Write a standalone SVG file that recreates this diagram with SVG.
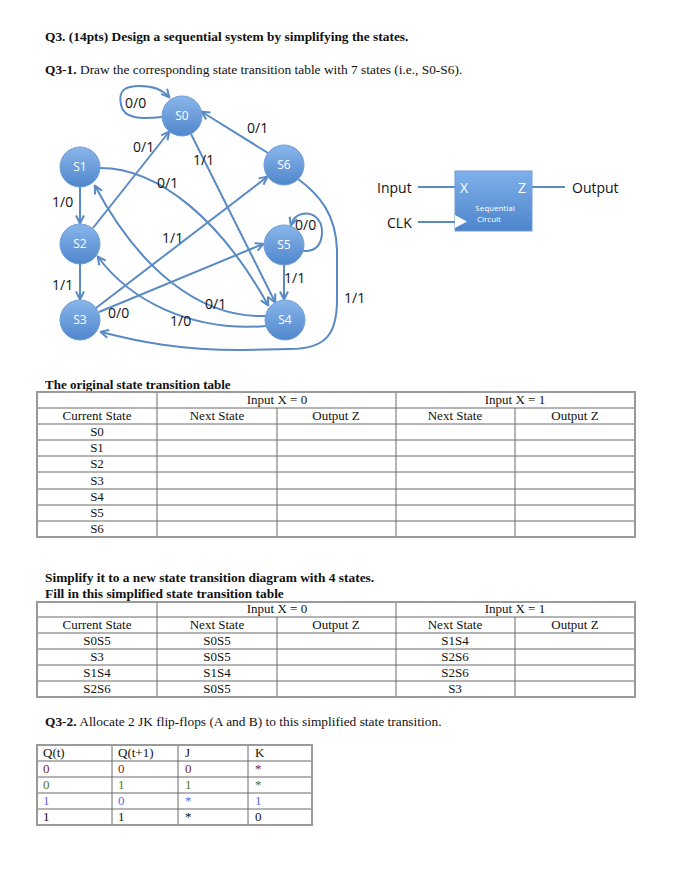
<svg xmlns="http://www.w3.org/2000/svg" width="683" height="874" viewBox="0 0 683 874">
<defs>
<linearGradient id="nodeg" x1="0" y1="0" x2="0" y2="1">
<stop offset="0" stop-color="#8ab6ea"/>
<stop offset="1" stop-color="#4f86cc"/>
</linearGradient>
<linearGradient id="boxg" x1="0" y1="0" x2="0" y2="1">
<stop offset="0" stop-color="#7fb0ea"/>
<stop offset="1" stop-color="#4d84cb"/>
</linearGradient>
<marker id="ah" viewBox="0 0 10 10" refX="8.5" refY="5" markerWidth="10" markerHeight="10" markerUnits="userSpaceOnUse" orient="auto">
<path d="M1,1 L9,5 L1,9" fill="none" stroke="#5a8ac4" stroke-width="2" stroke-linejoin="miter"/>
</marker>
<style>
.nd{fill:url(#nodeg);stroke:#6e9ed8;stroke-width:1}
.nt{font-family:"Open Sans","Liberation Sans",sans-serif;font-size:12px;fill:#fff;text-anchor:middle}
.e{fill:none;stroke:#5a8ac4;stroke-width:2;marker-end:url(#ah)}
.w{fill:none;stroke:#5a8ac4;stroke-width:2}
.el{font-family:"Open Sans","Liberation Sans",sans-serif;font-size:14px;fill:#111}
.sl{font-family:"Open Sans","Liberation Sans",sans-serif;font-size:14px;fill:#111}
.bt{font-family:"Open Sans","Liberation Sans",sans-serif;fill:#fff}
.t{font-family:"Liberation Serif","Times New Roman",serif;font-size:13px;fill:#111}
.h{font-size:13.4px}
.b{font-weight:bold}
.c{text-anchor:middle}
.g{fill:none;stroke:#6a6a6a;stroke-width:1}
.o{fill:none;stroke:#9a9a9a;stroke-width:2}
</style>
</defs>
<rect width="683" height="874" fill="#fff"/>

<text class="t b h" x="45" y="41">Q3. (14pts) Design a sequential system by simplifying the states.</text>
<text class="t h" x="45" y="74"><tspan class="b">Q3-1.</tspan> Draw the corresponding state transition table with 7 states (i.e., S0-S6).</text>

<g id="connectors">
<path class="e" d="M162,117 C140,119 124,119 121,105 C118,90 125,86 140,86 C155,86 163,90 169,97"/>
<path class="e" d="M191,134 L275,302"/>
<path class="e" d="M80,187 L80,223"/>
<path class="e" d="M100,168 C160,168 222,222 268,305"/>
<path class="e" d="M93,228 L169,132"/>
<path class="e" d="M80,264 L80,299"/>
<path class="e" d="M99,312 L263,244"/>
<path class="e" d="M96,308 L267,177"/>
<path class="e" d="M265,316 C200,318 140,270 95,186"/>
<path class="e" d="M266,326 C190,332 130,300 98,257"/>
<path class="e" d="M303,251 C315,252 322,245 322,232 C322,218 312,212 302,214 C296,215 293,219 291,225"/>
<path class="e" d="M284,265 L284,299"/>
<path class="e" d="M268,153 L202,112"/>
<path class="e" d="M298,179 C320,195 336,215 337,250 L337,300 C337,335 325,349 290,349 L240,350 C180,350 140,342 101,332"/>
</g>
<g id="edge-labels">
<text class="el" x="125" y="108">0/0</text>
<text class="el" x="193" y="165">1/1</text>
<text class="el" x="52" y="207">1/0</text>
<text class="el" x="157" y="188">0/1</text>
<text class="el" x="133" y="152">0/1</text>
<text class="el" x="52" y="290">1/1</text>
<text class="el" x="108" y="318">0/0</text>
<text class="el" x="162" y="243">1/1</text>
<text class="el" x="205" y="309">0/1</text>
<text class="el" x="170" y="326">1/0</text>
<text class="el" x="295" y="230">0/0</text>
<text class="el" x="284" y="283">1/1</text>
<text class="el" x="247" y="133">0/1</text>
<text class="el" x="344" y="303">1/1</text>
</g>

<g id="S0"><circle class="nd" cx="182" cy="116" r="20"/><text class="nt" x="182" y="120">S0</text></g>
<g id="S1"><circle class="nd" cx="80" cy="167" r="20"/><text class="nt" x="80" y="171">S1</text></g>
<g id="S2"><circle class="nd" cx="80" cy="244" r="20"/><text class="nt" x="80" y="248">S2</text></g>
<g id="S3"><circle class="nd" cx="80" cy="320" r="20"/><text class="nt" x="80" y="324">S3</text></g>
<g id="S4"><circle class="nd" cx="285" cy="320" r="20"/><text class="nt" x="285" y="324">S4</text></g>
<g id="S5"><circle class="nd" cx="284" cy="245" r="20"/><text class="nt" x="284" y="249">S5</text></g>
<g id="S6"><circle class="nd" cx="284" cy="165" r="20"/><text class="nt" x="284" y="169">S6</text></g>

<g id="seq-circuit">
<path class="w" d="M418,187 L455,187 M532,187 L565,187 M418,222 L455,222"/>
<rect x="455" y="171" width="77" height="60" fill="url(#boxg)" stroke="#6e9ed8" stroke-width="1"/>
<polygon points="455,215 467,221.5 455,228" fill="#fff"/>
<text class="bt" x="460" y="193" font-size="14">X</text>
<text class="bt" x="518" y="193" font-size="14">Z</text>
<text class="bt" x="495" y="211" font-size="8" text-anchor="middle">Sequential</text>
<text class="bt" x="489" y="222" font-size="8" text-anchor="middle">Circuit</text>
<text class="sl" x="377" y="193">Input</text>
<text class="sl" x="572" y="193">Output</text>
<text class="sl" x="387" y="228">CLK</text>
</g>

<g id="table1">
<text class="t b" x="45" y="389">The original state transition table</text>
<path class="g" d="M37,408 H635 M37,424 H635 M37,440 H635 M37,456 H635 M37,472 H635 M37,489 H635 M37,505 H635 M37,521 H635 M157,392 V537 M396,392 V537 M277,408 V537 M515,408 V537"/>
<rect class="o" x="37" y="392" width="598" height="145"/>
<text class="t c" x="277" y="404">Input X = 0</text>
<text class="t c" x="515" y="404">Input X = 1</text>
<text class="t c" x="97" y="420">Current State</text>
<text class="t c" x="217" y="420">Next State</text>
<text class="t c" x="336" y="420">Output Z</text>
<text class="t c" x="455" y="420">Next State</text>
<text class="t c" x="575" y="420">Output Z</text>
<text class="t c" x="97" y="436">S0</text>
<text class="t c" x="97" y="452">S1</text>
<text class="t c" x="97" y="468">S2</text>
<text class="t c" x="97" y="485">S3</text>
<text class="t c" x="97" y="501">S4</text>
<text class="t c" x="97" y="517">S5</text>
<text class="t c" x="97" y="533">S6</text>
</g>

<g id="table2">
<text class="t b h" x="45" y="582">Simplify it to a new state transition diagram with 4 states.</text>
<text class="t b h" x="45" y="598">Fill in this simplified state transition table</text>
<path class="g" d="M37,617 H635 M37,633 H635 M37,649 H635 M37,665 H635 M37,681 H635 M157,602 V697 M396,602 V697 M277,617 V697 M515,617 V697"/>
<rect class="o" x="37" y="602" width="598" height="95"/>
<text class="t c" x="277" y="613">Input X = 0</text>
<text class="t c" x="515" y="613">Input X = 1</text>
<text class="t c" x="97" y="629">Current State</text>
<text class="t c" x="217" y="629">Next State</text>
<text class="t c" x="336" y="629">Output Z</text>
<text class="t c" x="455" y="629">Next State</text>
<text class="t c" x="575" y="629">Output Z</text>
<text class="t c" x="97" y="645">S0S5</text><text class="t c" x="217" y="645">S0S5</text><text class="t c" x="455" y="645">S1S4</text>
<text class="t c" x="97" y="661">S3</text><text class="t c" x="217" y="661">S0S5</text><text class="t c" x="455" y="661">S2S6</text>
<text class="t c" x="97" y="677">S1S4</text><text class="t c" x="217" y="677">S1S4</text><text class="t c" x="455" y="677">S2S6</text>
<text class="t c" x="97" y="693">S2S6</text><text class="t c" x="217" y="693">S0S5</text><text class="t c" x="455" y="693">S3</text>
</g>

<text class="t h" x="45" y="726"><tspan class="b">Q3-2.</tspan> Allocate 2 JK flip-flops (A and B) to this simplified state transition.</text>

<g id="table3">
<path class="g" d="M37,761 H312 M37,777 H312 M37,793 H312 M37,809 H312 M112,745 V825 M178,745 V825 M248,745 V825"/>
<rect class="o" x="37" y="745" width="275" height="80"/>
<text class="t" x="43" y="757">Q(t)</text>
<text class="t" x="118" y="757">Q(t+1)</text>
<text class="t" x="185" y="757">J</text>
<text class="t" x="255" y="757">K</text>
<text class="t" x="43" y="773" style="fill:#7a1f2e">0</text><text class="t" x="118" y="773" style="fill:#7a1f2e">0</text><text class="t" x="185" y="773" style="fill:#7a1f2e">0</text><text class="t" x="255" y="773" style="fill:#7a1f2e">*</text>
<text class="t" x="43" y="789" style="fill:#4a7a1c">0</text><text class="t" x="118" y="789" style="fill:#4a7a1c">1</text><text class="t" x="185" y="789" style="fill:#4a7a1c">1</text><text class="t" x="255" y="789" style="fill:#4a7a1c">*</text>
<text class="t" x="43" y="805" style="fill:#5b6cf0">1</text><text class="t" x="118" y="805" style="fill:#5b6cf0">0</text><text class="t" x="185" y="805" style="fill:#5b6cf0">*</text><text class="t" x="255" y="805" style="fill:#5b6cf0">1</text>
<text class="t" x="43" y="821">1</text><text class="t" x="118" y="821">1</text><text class="t" x="185" y="821">*</text><text class="t" x="255" y="821">0</text>
</g>
</svg>
